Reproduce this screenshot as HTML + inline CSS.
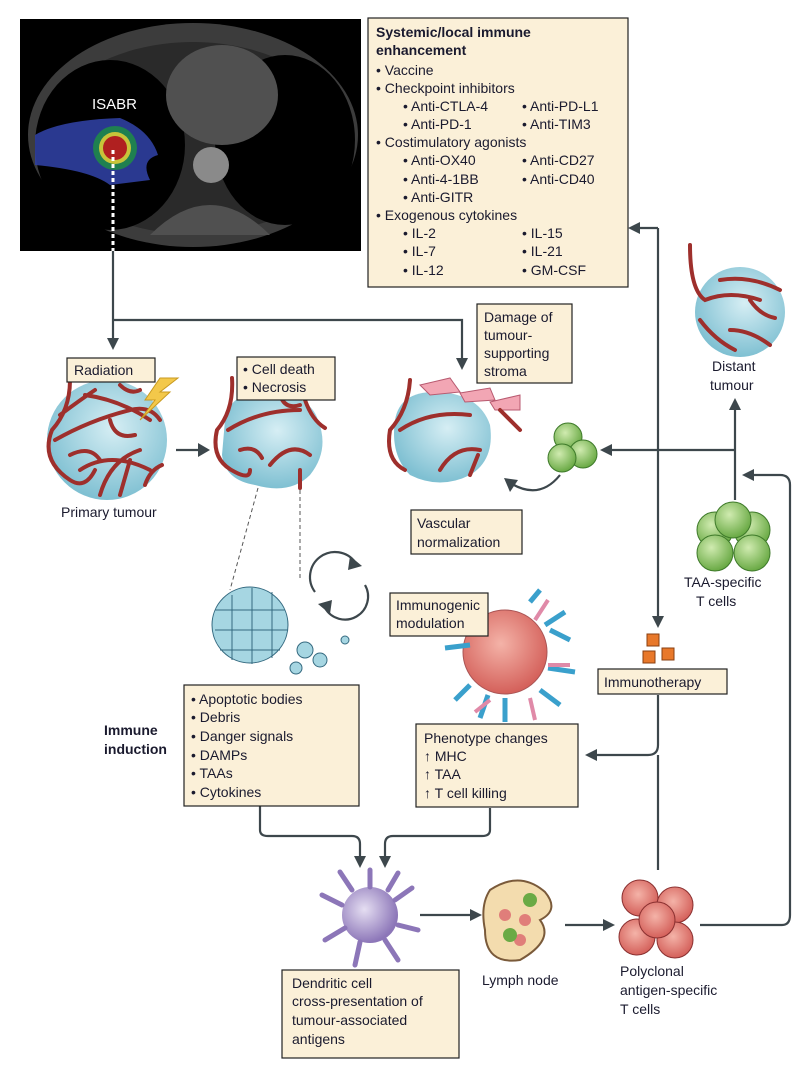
<!DOCTYPE html>
<html><head><meta charset="utf-8"><style>
html,body{margin:0;padding:0;background:#fff;}
svg{display:block;font-family:"Liberation Sans",sans-serif;}
.b{fill:#fbf0d8;stroke:#222;stroke-width:1.2}
.t{font-size:14px;fill:#1a1a2e}
.l{fill:none;stroke:#3d474c;stroke-width:2.2}
.a{fill:#3d474c}
.v{fill:none;stroke:#9e2f2c;stroke-width:4;stroke-linecap:round}
</style></head><body>
<svg width="807" height="1069" viewBox="0 0 807 1069">
<defs>
<radialGradient id="tb" cx="0.55" cy="0.4" r="0.6"><stop offset="0" stop-color="#d6eef4"/><stop offset="1" stop-color="#7fc0d2"/></radialGradient>
<radialGradient id="gr" cx="0.4" cy="0.35" r="0.65"><stop offset="0" stop-color="#d0ebb0"/><stop offset="1" stop-color="#6aaa45"/></radialGradient>
<radialGradient id="pk" cx="0.45" cy="0.4" r="0.6"><stop offset="0" stop-color="#f4b3a8"/><stop offset="1" stop-color="#d4605a"/></radialGradient>
<radialGradient id="pu" cx="0.4" cy="0.4" r="0.6"><stop offset="0" stop-color="#e5def2"/><stop offset="1" stop-color="#8c76b8"/></radialGradient>
</defs>
<!-- CT -->
<rect x="20" y="19" width="341" height="232" fill="#000"/>
<ellipse cx="193" cy="135" rx="165" ry="112" fill="#3c3c3c"/>
<ellipse cx="193" cy="138" rx="150" ry="96" fill="#2a2a2a"/>
<ellipse cx="110" cy="145" rx="75" ry="85" fill="#000"/>
<ellipse cx="285" cy="140" rx="70" ry="85" fill="#000"/>
<ellipse cx="222" cy="95" rx="56" ry="50" fill="#505050"/>
<circle cx="211" cy="165" r="18" fill="#8a8a8a"/>
<path d="M150 235 Q210 175 270 235 Z" fill="#505050"/>
<path d="M35 135 Q60 120 120 118 Q150 130 158 155 Q140 160 150 180 L110 185 Q90 170 35 165 Z" fill="#2f3fa0" opacity="0.9"/>
<circle cx="115" cy="148" r="22" fill="#1f8050"/>
<circle cx="115" cy="148" r="16" fill="#c7c43a"/>
<circle cx="115" cy="148" r="12" fill="#b02020"/>
<text x="92" y="109" font-size="15" fill="#fff">ISABR</text>
<line x1="113" y1="150" x2="113" y2="251" stroke="#fff" stroke-width="3" stroke-dasharray="4,3"/>
<!-- top box -->
<rect class="b" x="368" y="18" width="260" height="269"/>
<g class="t">
<text x="376" y="37" font-weight="bold">Systemic/local immune</text>
<text x="376" y="55" font-weight="bold">enhancement</text>
<text x="376" y="75">• Vaccine</text>
<text x="376" y="93">• Checkpoint inhibitors</text>
<text x="403" y="111">• Anti-CTLA-4</text><text x="522" y="111">• Anti-PD-L1</text>
<text x="403" y="129">• Anti-PD-1</text><text x="522" y="129">• Anti-TIM3</text>
<text x="376" y="147">• Costimulatory agonists</text>
<text x="403" y="165">• Anti-OX40</text><text x="522" y="165">• Anti-CD27</text>
<text x="403" y="184">• Anti-4-1BB</text><text x="522" y="184">• Anti-CD40</text>
<text x="403" y="202">• Anti-GITR</text>
<text x="376" y="220">• Exogenous cytokines</text>
<text x="403" y="238">• IL-2</text><text x="522" y="238">• IL-15</text>
<text x="403" y="256">• IL-7</text><text x="522" y="256">• IL-21</text>
<text x="403" y="275">• IL-12</text><text x="522" y="275">• GM-CSF</text>
</g>
<!-- connectors -->
<path class="l" d="M113 251 V338 M113 320 H462 V360"/>
<path class="a" d="M107 338 L119 338 L113 350Z M456 358 L468 358 L462 370Z"/>
<path class="l" d="M176 450 H200"/><path class="a" d="M198 443 L210 450 L198 457Z"/>
<path class="l" d="M658 228 V620 M658 228 H640"/>
<path class="a" d="M640 222 L628 228 L640 234Z M652 616 L664 616 L658 628Z"/>
<path class="l" d="M735 500 V408"/><path class="a" d="M729 410 L741 410 L735 398Z"/>
<path class="l" d="M735 450 H610"/><path class="a" d="M612 444 L600 450 L612 456Z"/>
<path class="l" d="M560 475 Q540 500 512 484"/><path class="a" d="M504 478 L518 480 L510 492Z"/>
<path class="l" d="M700 925 H782 Q790 925 790 915 V485 Q790 475 780 475 H752"/><path class="a" d="M754 469 L742 475 L754 481Z"/>
<path class="l" d="M658 695 V745 Q658 755 648 755 H595 M658 755 V870"/><path class="a" d="M597 749 L585 755 L597 761Z"/>
<path class="l" d="M260 806 V830 Q260 836 268 836 H352 Q360 836 360 844 V858 M490 808 V830 Q490 836 482 836 H393 Q385 836 385 844 V858"/>
<path class="a" d="M354 856 L366 856 L360 868Z M379 856 L391 856 L385 868Z"/>
<path class="l" d="M420 915 H470"/><path class="a" d="M470 909 L482 915 L470 921Z"/>
<path class="l" d="M565 925 H605"/><path class="a" d="M603 919 L615 925 L603 931Z"/>
<path d="M258 488 L230 590 M300 490 L300 580" stroke="#555" stroke-width="1" stroke-dasharray="4,3" fill="none"/>
<path class="l" d="M315 592 A22 22 0 0 1 355 562"/><path class="a" d="M350 556 L362 566 L348 570Z"/>
<path class="l" d="M365 585 A22 22 0 0 1 325 608"/><path class="a" d="M330 614 L318 604 L332 600Z"/>
<!-- tumours -->
<g>
<circle cx="107" cy="440" r="60" fill="url(#tb)"/>
<path class="v" d="M70 380 Q70 410 52 430 Q40 460 70 480 Q85 490 95 470 M55 440 Q90 420 130 410 Q150 405 160 420 M80 470 Q110 450 150 470 M85 395 Q120 400 150 420 M100 495 Q110 460 140 450 M60 415 Q80 400 95 390 M120 495 L130 460 M70 455 Q90 445 100 460 M110 420 Q115 440 135 435 M145 485 Q150 470 162 465 M120 385 Q130 395 140 390"/>
<path d="M160 378 L145 400 L155 400 L140 420 L170 392 L160 392 L178 378Z" fill="#f3c84a" stroke="#c99a20"/>
<text x="61" y="517" class="t">Primary tumour</text>
</g>
<g>
<path d="M225 420 Q230 390 270 392 Q310 395 318 420 Q330 450 310 475 Q290 495 255 485 Q225 480 222 455 Z" fill="url(#tb)"/>
<path class="v" d="M232 378 Q234 410 217 430 Q210 460 235 472 Q250 480 250 470 M228 430 Q260 410 300 410 M280 395 Q285 410 300 405 M270 465 Q290 440 310 455 M300 470 L300 488 M305 400 Q312 420 325 428 M240 450 Q255 445 262 458"/>
</g>
<g>
<path d="M395 420 Q400 390 440 392 Q480 395 490 425 Q495 460 470 475 Q440 490 410 475 Q390 455 395 420 Z" fill="url(#tb)"/>
<path class="v" d="M410 380 Q408 410 390 430 Q385 460 405 470 M400 430 Q430 410 470 415 M440 470 Q455 445 480 450 M470 475 L478 455"/>
<path d="M420 385 L450 378 L460 392 L430 395Z M460 393 L490 388 L495 400 L465 402Z M490 402 L520 395 L520 410 L495 410Z" fill="#f2a6b4" stroke="#b85a70"/>
<path class="v" d="M500 410 L520 430" stroke-width="3"/>
</g>
<g>
<circle cx="740" cy="312" r="45" fill="url(#tb)"/>
<path class="v" d="M690 245 Q690 290 705 300 Q730 290 760 300 M720 280 Q750 275 780 290 M730 330 Q750 330 770 345 M700 320 Q715 340 735 350 M750 300 Q760 315 775 318"/>
<text x="712" y="371" class="t">Distant</text><text x="710" y="390" class="t">tumour</text>
</g>
<g stroke="#3e7a2a" stroke-width="1">
<circle cx="568" cy="437" r="14" fill="url(#gr)"/><circle cx="583" cy="454" r="14" fill="url(#gr)"/><circle cx="562" cy="458" r="14" fill="url(#gr)"/>
<circle cx="715" cy="530" r="18" fill="url(#gr)"/><circle cx="752" cy="530" r="18" fill="url(#gr)"/><circle cx="733" cy="520" r="18" fill="url(#gr)"/><circle cx="715" cy="553" r="18" fill="url(#gr)"/><circle cx="752" cy="553" r="18" fill="url(#gr)"/>
</g>
<text x="684" y="587" class="t">TAA-specific</text><text x="696" y="606" class="t">T cells</text>
<g fill="#a6d6e2" stroke="#356a80" stroke-width="1">
<circle cx="250" cy="625" r="38"/>
<circle cx="305" cy="650" r="8"/><circle cx="320" cy="660" r="7"/><circle cx="296" cy="668" r="6"/><circle cx="345" cy="640" r="4"/>
</g>
<path d="M215 610 H285 M215 630 H288 M220 650 H280 M232 595 V660 M252 588 V664 M272 592 V658" stroke="#356a80" fill="none"/>
<circle cx="505" cy="652" r="42" fill="url(#pk)" stroke="#a55"/>
<path d="M445 648 L470 645 M530 602 L540 590 M545 625 L565 612 M548 668 L575 672 M540 690 L560 705 M488 695 L480 718 M505 698 L505 722 M470 685 L455 700 M550 630 L570 640" stroke="#3aa0cc" stroke-width="5"/>
<path d="M535 620 L548 600 M490 700 L475 712 M530 698 L535 720 M548 665 L570 665" stroke="#e08aa8" stroke-width="4"/>
<circle cx="370" cy="915" r="28" fill="url(#pu)"/>
<path d="M370 887 L370 870 M395 900 L412 888 M398 925 L418 930 M385 940 L398 960 M360 942 L355 965 M345 928 L325 940 M342 905 L322 895 M352 890 L340 872 M388 890 L398 873" stroke="#8c76b8" stroke-width="5" stroke-linecap="round"/>
<path d="M490 890 Q520 870 545 892 Q560 910 540 920 Q555 940 520 960 Q485 965 485 930 Q480 905 490 890Z" fill="#f3dcae" stroke="#7a5a3a" stroke-width="2"/>
<circle cx="505" cy="915" r="6" fill="#e07e7a"/><circle cx="525" cy="920" r="6" fill="#e07e7a"/><circle cx="520" cy="940" r="6" fill="#e07e7a"/><circle cx="530" cy="900" r="7" fill="#6aaa45"/><circle cx="510" cy="935" r="7" fill="#6aaa45"/>
<g stroke="#8a3030" stroke-width="1">
<circle cx="640" cy="898" r="18" fill="url(#pk)"/><circle cx="675" cy="905" r="18" fill="url(#pk)"/><circle cx="637" cy="937" r="18" fill="url(#pk)"/><circle cx="675" cy="940" r="18" fill="url(#pk)"/><circle cx="657" cy="920" r="18" fill="url(#pk)"/>
</g>
<rect x="647" y="634" width="12" height="12" fill="#e8782a" stroke="#8a3f10"/><rect x="643" y="651" width="12" height="12" fill="#e8782a" stroke="#8a3f10"/><rect x="662" y="648" width="12" height="12" fill="#e8782a" stroke="#8a3f10"/>
<rect class="b" x="67" y="358" width="88" height="24"/><text class="t" x="74" y="375">Radiation</text>
<rect class="b" x="237" y="357" width="98" height="43"/><text class="t" x="243" y="374">• Cell death</text><text class="t" x="243" y="392">• Necrosis</text>
<rect class="b" x="477" y="304" width="95" height="79"/>
<text class="t" x="484" y="322">Damage of</text><text class="t" x="484" y="340">tumour-</text><text class="t" x="484" y="358">supporting</text><text class="t" x="484" y="376">stroma</text>
<rect class="b" x="411" y="510" width="111" height="44"/><text class="t" x="417" y="528">Vascular</text><text class="t" x="417" y="547">normalization</text>
<rect class="b" x="390" y="593" width="98" height="43"/><text class="t" x="396" y="610">Immunogenic</text><text class="t" x="396" y="628">modulation</text>
<rect class="b" x="598" y="669" width="129" height="25"/><text class="t" x="604" y="687">Immunotherapy</text>
<rect class="b" x="416" y="724" width="162" height="83"/>
<text class="t" x="424" y="743">Phenotype changes</text><text class="t" x="424" y="761">↑ MHC</text><text class="t" x="424" y="779">↑ TAA</text><text class="t" x="424" y="798">↑ T cell killing</text>
<rect class="b" x="184" y="685" width="175" height="121"/>
<g class="t"><text x="191" y="704">• Apoptotic bodies</text><text x="191" y="722">• Debris</text><text x="191" y="741">• Danger signals</text><text x="191" y="760">• DAMPs</text><text x="191" y="778">• TAAs</text><text x="191" y="797">• Cytokines</text></g>
<text class="t" x="104" y="735" font-weight="bold">Immune</text><text class="t" x="104" y="754" font-weight="bold">induction</text>
<rect class="b" x="282" y="970" width="177" height="88"/>
<g class="t"><text x="292" y="988">Dendritic cell</text><text x="292" y="1006">cross-presentation of</text><text x="292" y="1025">tumour-associated</text><text x="292" y="1044">antigens</text></g>
<text class="t" x="482" y="985">Lymph node</text>
<g class="t"><text x="620" y="976">Polyclonal</text><text x="620" y="995">antigen-specific</text><text x="620" y="1014">T cells</text></g>
</svg>
</body></html>
